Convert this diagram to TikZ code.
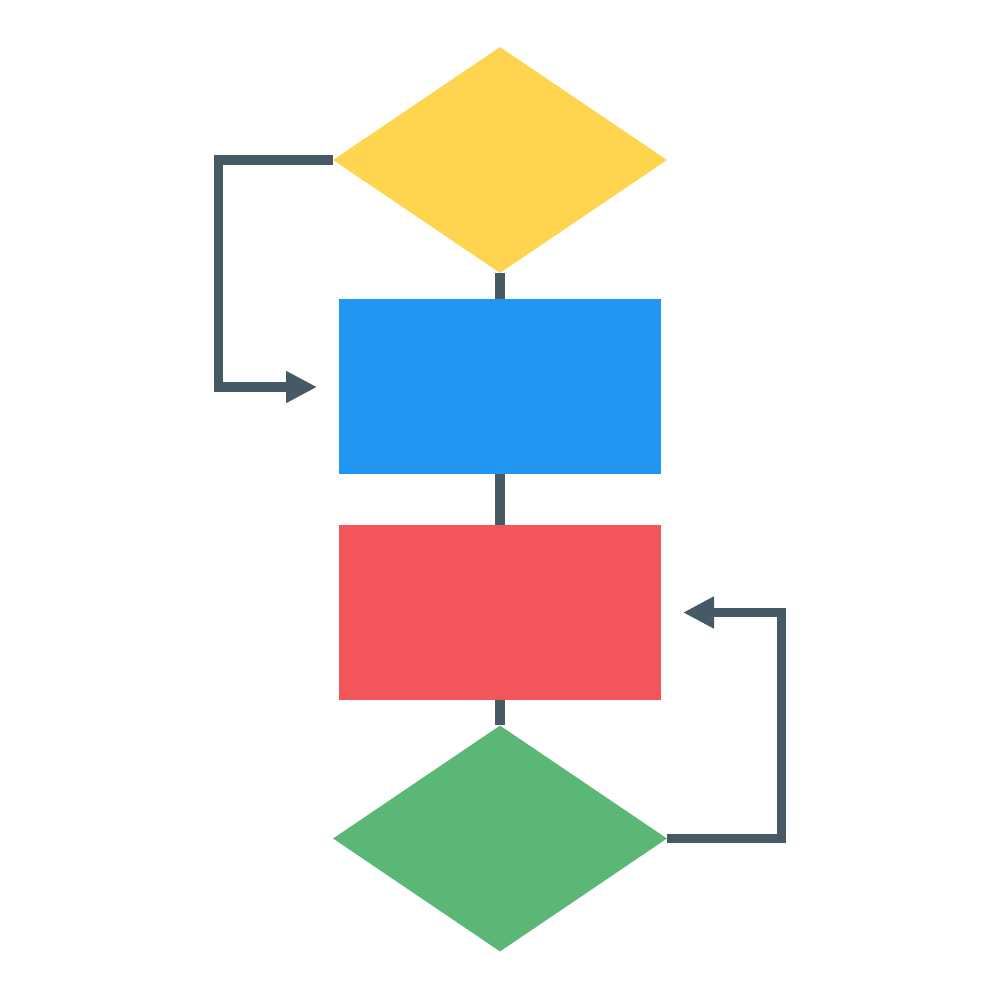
\documentclass[tikz,border=0pt]{standalone}
\usetikzlibrary{shapes.geometric,arrows.meta,backgrounds}
\definecolor{lineC}{HTML}{455A64}
\definecolor{yelC}{HTML}{FFD54F}
\definecolor{bluC}{HTML}{2196F3}
\definecolor{redC}{HTML}{F2565B}
\definecolor{grnC}{HTML}{5BB776}
\begin{document}
\begin{tikzpicture}[x=1pt,y=-1pt,
  dia/.style={diamond,draw=none,inner sep=0pt,minimum width=334pt,minimum height=226pt},
  box/.style={rectangle,draw=none,inner sep=0pt,minimum width=322pt,minimum height=175pt},
  conn/.style={draw=lineC,line width=9.5pt,line join=miter},
  tipped/.style={conn,-{Triangle[length=31pt,width=30pt]}}]
\useasboundingbox (0,0) rectangle (1000,1000);
\node[dia,fill=yelC] (yd) at (500,160) {};
\node[box,fill=bluC] (bb) at (500,386.5) {};
\node[box,fill=redC] (rb) at (500,612.5) {};
\node[dia,fill=grnC] (gd) at (500,838.5) {};
\coordinate (tipA) at (317,387);
\coordinate (tipB) at (683,612.5);
\begin{scope}[on background layer]
\fill[white] (0,0) rectangle (1000,1000);
\draw[conn] (yd.south) -- (bb.north);
\draw[conn] (bb.south) -- (rb.north);
\draw[conn] (rb.south) -- (gd.north);
\draw[tipped] (yd.west) -- ++(-114.5,0) |- (tipA);
\draw[tipped] (gd.east) -- ++(114.5,0) |- (tipB);
\end{scope}
\end{tikzpicture}
\end{document}
